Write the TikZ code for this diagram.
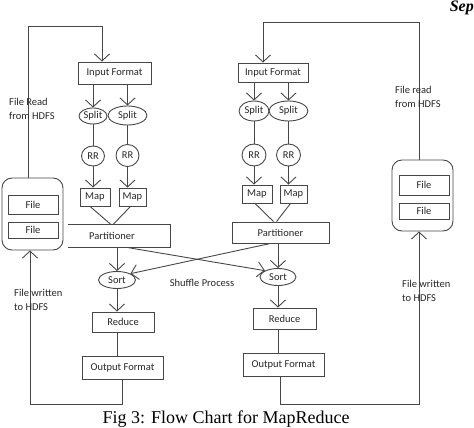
\documentclass[tikz,border=0pt]{standalone}
\usepackage{fontspec}
\setmainfont{Carlito}
\newfontfamily\capfont{Liberation Serif}
\usetikzlibrary{shapes.geometric,arrows.meta}
\begin{document}
\begin{tikzpicture}[x=1pt,y=-1pt,
  ln/.style={draw=black!72, line width=0.9pt},
  arr/.style={ln, -{Straight Barb[length=7pt,width=15pt,line width=0.9pt]}},
  bx/.style={ln, rectangle, inner sep=0pt, font=\fontsize{10.5}{12}\selectfont, text=black!85},
  el/.style={ln, ellipse, inner sep=0pt, font=\fontsize{10.5}{12}\selectfont, text=black!85},
  lbl/.style={font=\fontsize{10.5}{13.5}\selectfont, align=left, inner sep=0pt, text=black!85},
  store/.style={ln, rectangle, rounded corners=10pt, inner sep=0pt, fill=white}]
\useasboundingbox (0,0) rectangle (474,428);

% ---------- left column ----------
\node[bx, minimum width=73pt, minimum height=22pt] (if1) at (114.5,73) {Input Format};
\node[el, minimum width=28pt, minimum height=16pt] (sp1a) at (93,116) {Split};
\node[el, minimum width=39pt, minimum height=19pt] (sp1b) at (127.5,115.5) {Split};
\node[el, minimum width=23pt, minimum height=20pt] (rr1a) at (93,156) {RR};
\node[el, minimum width=23pt, minimum height=22pt] (rr1b) at (127.5,155.5) {RR};
\node[bx, minimum width=30pt, minimum height=18pt] (mp1a) at (95,197) {Map};
\node[bx, minimum width=27pt, minimum height=18pt] (mp1b) at (132.5,197) {Map};
\node[bx, draw=none, minimum width=116pt, minimum height=22pt] (pt1) at (112,236) {Partitioner};
\draw[ln] ([xshift=14pt]pt1.north west) -- (pt1.north east) -- (pt1.south east) -- ([xshift=14pt]pt1.south west);
\node[el, minimum width=37pt, minimum height=17pt] (so1) at (117,280) {Sort};
\node[bx, minimum width=62pt, minimum height=20pt] (rd1) at (123,322) {Reduce};
\node[bx, minimum width=81pt, minimum height=23pt] (of1) at (122.5,367.5) {Output Format};

% ---------- right column ----------
\node[bx, minimum width=70pt, minimum height=19pt] (if2) at (273,72.5) {Input Format};
\node[el, minimum width=30pt, minimum height=20pt] (sp2a) at (254,111) {Split};
\node[el, minimum width=39pt, minimum height=20pt] (sp2b) at (288.5,111) {Split};
\node[el, minimum width=24pt, minimum height=22pt] (rr2a) at (254,155) {RR};
\node[el, minimum width=24pt, minimum height=22pt] (rr2b) at (288.5,155) {RR};
\node[bx, minimum width=30pt, minimum height=18pt] (mp2a) at (257,194) {Map};
\node[bx, minimum width=27pt, minimum height=18pt] (mp2b) at (293.5,194) {Map};
\node[bx, minimum width=97pt, minimum height=21pt] (pt2) at (280.5,232.5) {Partitioner};
\node[el, minimum width=36pt, minimum height=17pt] (so2) at (278,277) {Sort};
\node[bx, minimum width=63pt, minimum height=21pt] (rd2) at (284.5,318.5) {Reduce};
\node[bx, minimum width=81pt, minimum height=23pt] (of2) at (283.5,364.5) {Output Format};

% ---------- storage ----------
\node[store, minimum width=61pt, minimum height=72pt] (st1) at (32.5,214) {};
\node[bx, minimum width=50pt, minimum height=19pt] (f1a) at (33,204.5) {File};
\node[bx, minimum width=50pt, minimum height=16pt] (f1b) at (33,230) {File};
\node[store, minimum width=61pt, minimum height=71pt] (st2) at (422.5,195.5) {};
\node[bx, minimum width=50pt, minimum height=20pt] (f2a) at (424,185) {File};
\node[bx, minimum width=50pt, minimum height=16pt] (f2b) at (424,211) {File};

% ---------- connectors left ----------
\draw[arr] (sp1a.north |- if1.south) -- (sp1a.north);
\draw[arr] (sp1b.north |- if1.south) -- (sp1b.north);
\draw[ln] (sp1a) -- (rr1a);
\draw[ln] (sp1b) -- (rr1b);
\draw[arr] (rr1a.south) -- (rr1a.south |- mp1a.north);
\draw[arr] (rr1b.south) -- (rr1b.south |- mp1b.north);
\draw[ln] ([xshift=-5pt]mp1a.south) -- ([xshift=-1pt]pt1.north);
\draw[ln] ([xshift=-2pt]mp1b.south) -- ([xshift=1pt]pt1.north);
\draw[arr] (so1.north |- pt1.south) -- (so1.north);
\draw[arr] (so1.south) -- (so1.south |- rd1.north);
\draw[ln] (so1.south |- rd1.south) -- (so1.south |- of1.north);

% ---------- connectors right ----------
\draw[arr] (sp2a.north |- if2.south) -- (sp2a.north);
\draw[arr] (sp2b.north |- if2.south) -- (sp2b.north);
\draw[ln] (sp2a) -- (rr2a);
\draw[ln] (sp2b) -- (rr2b);
\draw[arr] (rr2a.south) -- (rr2a.south |- mp2a.north);
\draw[arr] (rr2b.south) -- (rr2b.south |- mp2b.north);
\draw[ln] ([xshift=-2pt]mp2a.south) -- ([xshift=-7pt]pt2.north);
\draw[ln] ([xshift=-3pt]mp2b.south) -- ([xshift=-4pt]pt2.north);
\draw[arr] (so2.north |- pt2.south) -- (so2.north);
\draw[arr] (so2.south) -- (so2.south |- rd2.north);
\draw[ln] (so2.south |- rd2.south) -- (so2.south |- of2.north);

% ---------- shuffle ----------
\draw[arr] ([xshift=15pt]pt1.south) -- (so2.north west);
\draw[arr] ([xshift=-10pt]pt2.south) -- (so1.north east);

% ---------- HDFS loops ----------
\coordinate (tl) at (28,26);
\draw[arr] (tl |- st1.north) -- (tl) -| ([xshift=-12.5pt]if1.north);
\coordinate (bl) at (30,404);
\draw[arr] (of1.south) |- (bl) -- (bl |- st1.south);
\coordinate (tr) at (419,22);
\draw[arr] (tr |- st2.north) -- (tr) -| ([xshift=-10pt]if2.north);
\coordinate (br) at (419,404);
\draw[arr] ([xshift=-3.5pt]of2.south) |- (br) -- (br |- st2.south);

% ---------- labels ----------
\node[lbl, anchor=west] (t1) at (9,109) {File Read\\from HDFS};
\node[lbl, anchor=west] (t2) at (14,300) {File written\\to HDFS};
\node[lbl, anchor=west] (t3) at (395,97) {File read\\from HDFS};
\node[lbl, anchor=west] (t4) at (402,291) {File written\\to HDFS};
\node[lbl] (t5) at (202,283) {Shuffle Process};

\node[font=\capfont\fontsize{18}{20}\selectfont, inner sep=0pt] (cap) at (226,419) {Fig 3: Flow Chart for MapReduce};
\node[font=\capfont\bfseries\itshape\fontsize{16}{18}\selectfont, anchor=north east, inner sep=0pt] (sep) at (474,1) {Sep};
\end{tikzpicture}
\end{document}
